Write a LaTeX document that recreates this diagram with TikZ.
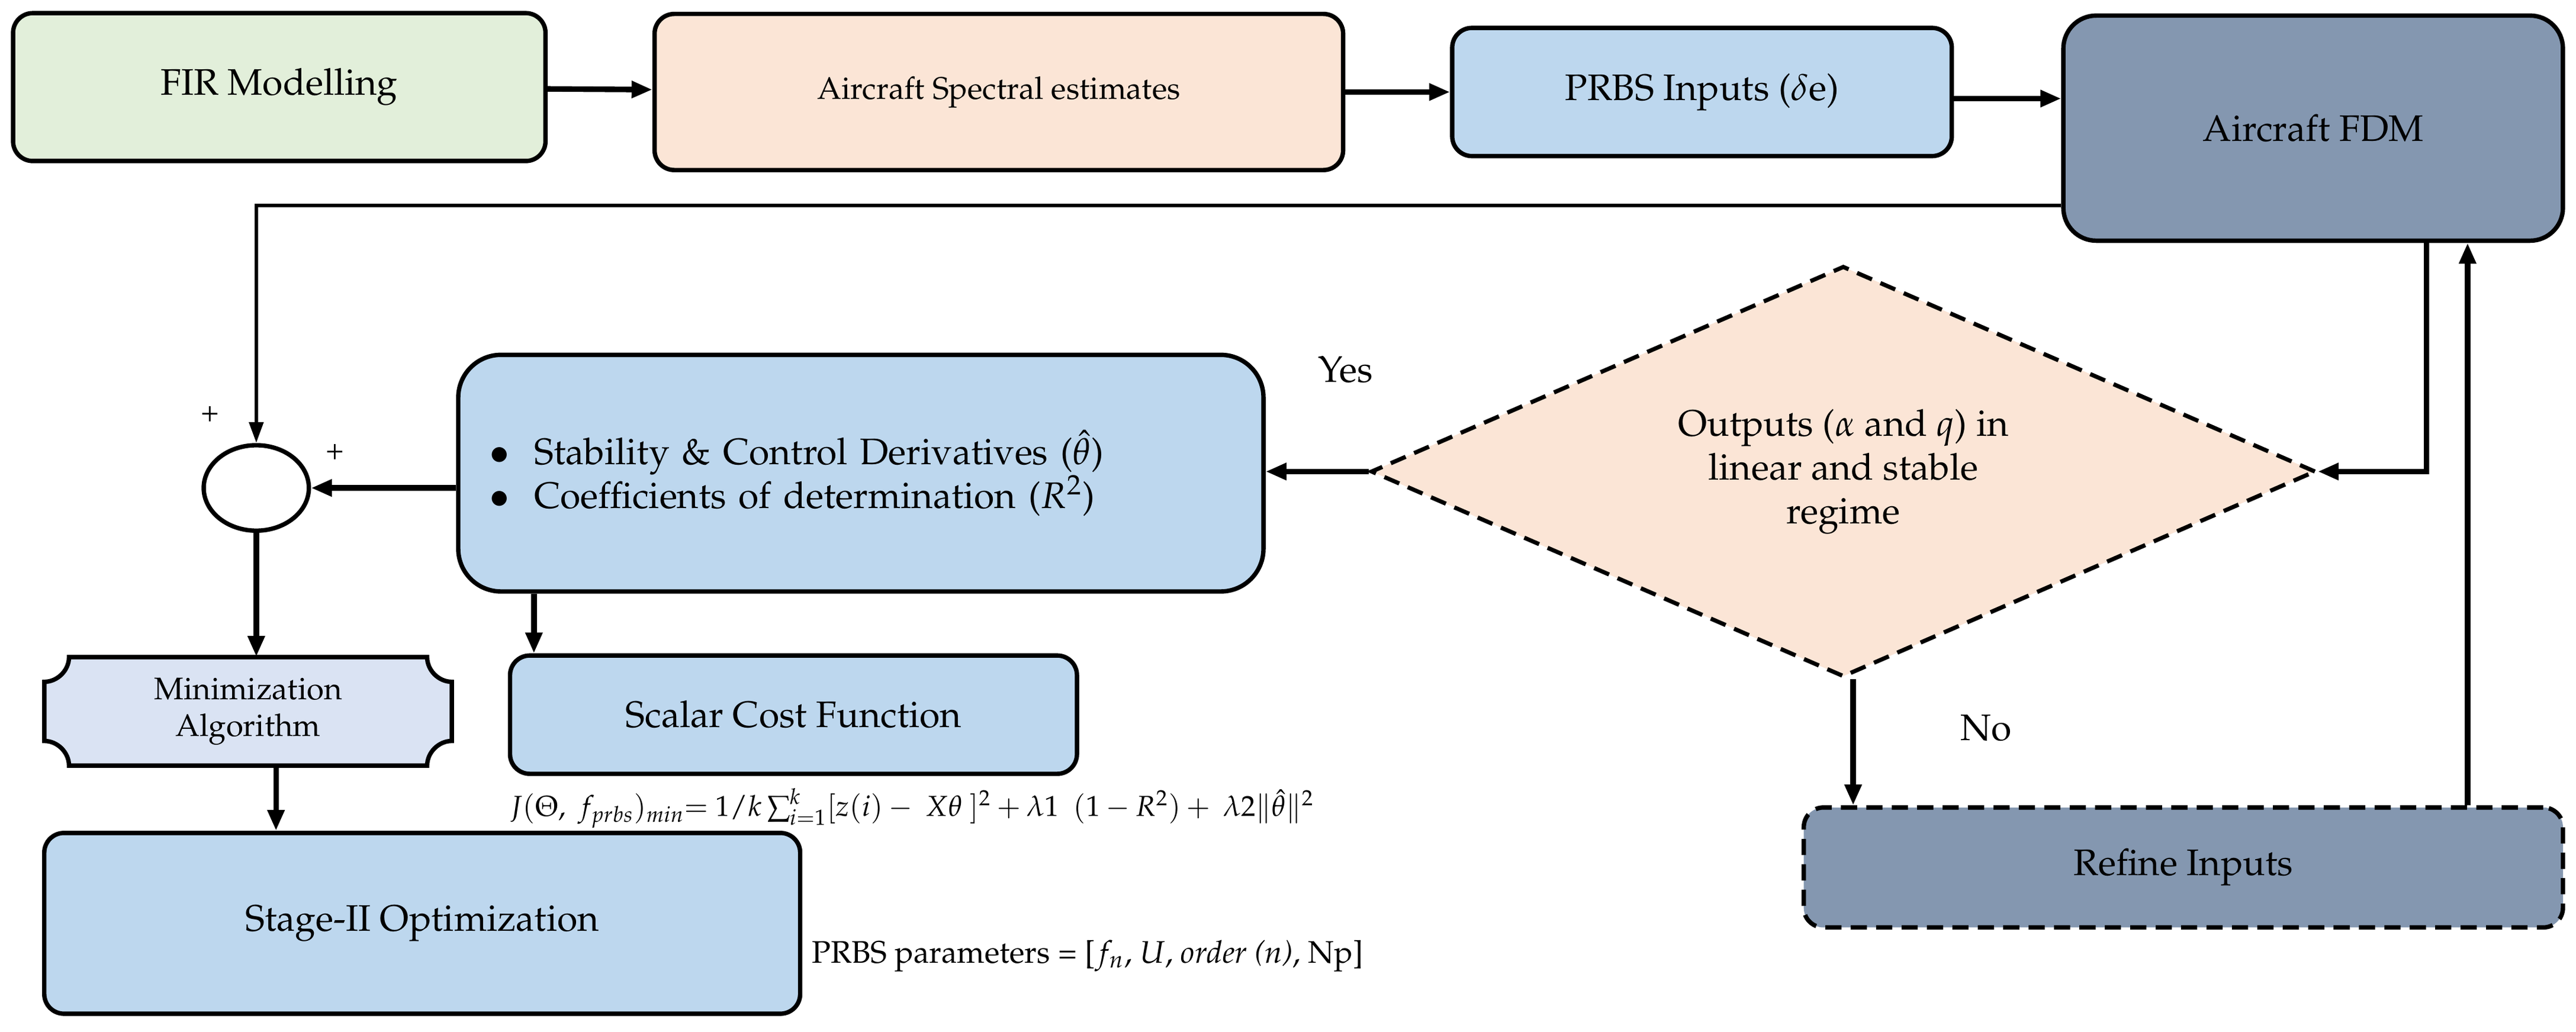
\documentclass[tikz,border=0pt]{standalone}
\usepackage[T1]{fontenc}
\usepackage{mathpazo}
\usetikzlibrary{shapes.geometric,arrows.meta}
\definecolor{cgreen}{HTML}{E2EFDA}
\definecolor{corange}{HTML}{FBE5D6}
\definecolor{cblue}{HTML}{BDD7EE}
\definecolor{cslate}{HTML}{8497B0}
\definecolor{clight}{HTML}{DAE3F3}
\tikzset{
 box/.style={draw, line width=1.9pt, rounded corners=0.3cm, align=center, inner sep=2pt},
 arr/.style={line width=2.4pt, -{Triangle[length=9pt,width=7pt]}},
 thinarr/.style={line width=1.6pt, -{Triangle[length=9pt,width=6pt]}},
 dsh/.style={dash pattern=on 7pt off 4pt},
 big/.style={font=\fontsize{16}{19}\selectfont},
 mid/.style={font=\fontsize{13.5}{16}\selectfont},
}
\begin{document}
\begin{tikzpicture}[x=0.025cm,y=-0.025cm]
\useasboundingbox (0,0) rectangle (1568,628);
\node[box,big,fill=cgreen,minimum width=8.1cm,minimum height=2.25cm] (fir) at (170,53) {FIR Modelling};
\node[box,mid,fill=corange,minimum width=10.475cm,minimum height=2.375cm] (spec) at (608,56) {Aircraft Spectral estimates};
\node[box,big,fill=cblue,minimum width=7.6cm,minimum height=1.95cm] (prbs) at (1036,56) {PRBS Inputs ($\delta$e)};
\node[box,big,fill=cslate,rounded corners=0.5cm,minimum width=7.6cm,minimum height=3.425cm] (fdm) at (1408,78) {Aircraft FDM};
\node[box,big,fill=cblue,rounded corners=0.65cm,minimum width=12.25cm,minimum height=3.6cm,text width=11.3cm,align=left] (stab) at (524,288) {%
$\bullet$\ \ Stability \& Control Derivatives ($\hat\theta$)\\
$\bullet$\ \ Coefficients of determination ($R^2$)};
\node[draw,dsh,line width=1.8pt,fill=corange,diamond,shape aspect=2.3,minimum width=14.375cm,minimum height=6.25cm,inner sep=0pt,big,align=center] (dia) at (1122,287) {Outputs ($\alpha$ and $q$) in\\ linear and stable\\ regime};
\node[box,big,dsh,fill=cslate,minimum width=11.55cm,minimum height=1.825cm] (ref) at (1329,528) {Refine Inputs};
\node[draw,ellipse,line width=1.9pt,fill=white,minimum width=1.6cm,minimum height=1.3cm] (sum) at (156,297) {};
\node[box,big,fill=cblue,minimum width=8.625cm,minimum height=1.8cm] (cost) at (483,435) {Scalar Cost Function};
\node[box,big,fill=cblue,minimum width=11.5cm,minimum height=2.75cm] (stage) at (257,562) {Stage-II Optimization};
% minimization shape (concave corners)
\draw[line width=1.9pt,fill=clight]
 (42,400) -- (260,400) .. controls (260,408) and (267,415) .. (275,415)
 -- (275,451) .. controls (267,451) and (260,458) .. (260,466)
 -- (42,466) .. controls (42,458) and (35,451) .. (27,451)
 -- (27,415) .. controls (35,415) and (42,408) .. (42,400) -- cycle;
\node[mid,align=center,inner sep=0pt,minimum width=6.2cm,minimum height=1.65cm] (min) at (151,433) {Minimization\\ Algorithm};
% labels
\node[big] (yes) at (819,225) {Yes};
\node[big] (no) at (1209,443) {No};
\node[font=\fontsize{13}{15}\selectfont] (p1) at (128,252) {+};
\node[font=\fontsize{13}{15}\selectfont] (p2) at (204,275) {+};
\node[font=\fontsize{12.5}{15}\selectfont,anchor=west,inner sep=0pt] (form) at (310,492) {$J(\Theta,\ {\textstyle f_{prbs}})_{min}{=}\ 1/k\sum_{i=1}^{k}[z(i)-\ X\theta\ ]^2+\lambda 1\ \ (1-R^2)+\ \lambda 2\|\hat\theta\|^2$};
\node[font=\fontsize{13.5}{16}\selectfont,anchor=west,inner sep=0pt] (pp) at (494,582) {PRBS parameters = [${\large f}_n$, $U$, \textit{order (n)}, Np]};
% connectors
\draw[arr] (fir) -- (spec);
\draw[arr] (spec) -- (prbs);
\draw[arr] (prbs.east|-0,60) -- (fdm.west|-0,60);
\coordinate (c1) at (156,125);
\draw[thinarr] (fdm.west|-c1) -- (c1) -- (sum.north);
\draw[arr] (stab.west|-sum.east) -- (sum.east);
\draw[arr] (dia.west) -- (stab.east|-dia.west);
\coordinate (c2) at (1477,287);
\draw[arr] (fdm.south-|c2) -- (c2) -- (dia.east);
\draw[arr] (dia.south-|1128,0) -- (ref.north-|1128,0);
\draw[arr] (ref.north-|1502,0) -- (fdm.south-|1502,0);
\draw[arr] (sum.south) -- (min.north-|sum.south);
\draw[arr] (stab.south-|325,0) -- (cost.north-|325,0);
\draw[arr] (min.south-|168,0) -- (stage.north-|168,0);
\end{tikzpicture}
\end{document}
